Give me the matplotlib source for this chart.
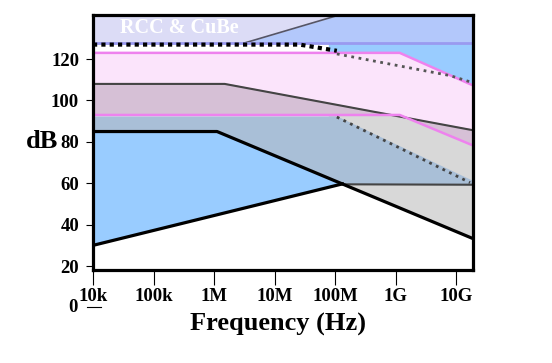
import matplotlib
matplotlib.use('Agg')
import matplotlib.pyplot as plt

plt.rcParams['font.family'] = ['Liberation Serif', 'DejaVu Serif']
plt.rcParams['font.weight'] = 'bold'

# boundaries of the regions, frequency in Hz, level in dB
lower_f = [1e4, 1.32e8]
lower_db = [30, 59.7]
upper_f = [1e4, 1.12e6, 2e10]
upper_db = [85, 85, 33]

blue_f = [1e4, 1.32e8, 1.12e6, 1e4]
blue_db = [30, 59.7, 85, 85]
blue_top_f = [8e7, 2e10, 2e10, 8e7]
blue_top_db = [127.8, 127.8, 100, 100]

grey_f = [1.32e8, 2e10, 2e10, 1.17e9, 8e7]
grey_db = [59.7, 33, 79, 93, 93]

slate_f = [1e4, 1.12e6, 1.32e8, 2e10, 2e10, 1.07e8, 1e4]
slate_db = [85, 85, 59.7, 59.3, 60.5, 92, 92]

pink_f = [1e4, 1.17e9, 2e10, 2e10, 1.17e9, 1e4]
pink_db = [93, 93, 78, 107, 123, 123]

dark_f = [1e4, 1e4, 1.5e6, 2e10, 2e10, 1.17e9]
dark_db = [93, 108, 108, 85.5, 78, 93]

rcc_f = [1e4, 3.2e6, 1.2e8, 1e4]
rcc_db = [127.8, 127.8, 141.4, 141.4]

dots_f = [1e4, 2.6e7, 1.07e8]
dots_db = [127, 127, 124]
dots2_f = [1.07e8, 8e9, 1.7e10]
dots2_db = [122.5, 112, 109]
dots3_f = [1.07e8, 1.7e10]
dots3_db = [92, 60.3]

xticks = [1e4, 1e5, 1e6, 1e7, 1e8, 1e9, 1e10]
xlabels = ['10k', '100k', '1M', '10M', '100M', '1G', '10G']
yticks = [20, 40, 60, 80, 100, 120]

fig = plt.figure(figsize=(5.52, 3.63), dpi=100)
ax = fig.add_axes([0.1685, 0.2562, 0.6885, 0.7025])
ax.set_xscale('log')
ax.set_xlim(1e4, 10 ** 10.28)
ax.set_ylim(18.1, 141.3)

# top band
ax.axhspan(127.8, 145, color='#b3c8fb', zorder=1)
ax.fill(rcc_f, rcc_db, color='#dcdcf6', zorder=2)
ax.plot([3.2e6, 1.2e8], [127.8, 141.4], color='#555566', lw=1.2, zorder=3)
ax.axhline(127.8, color='#9a9af0', lw=2, zorder=3)
ax.text(2.8e4, 135, 'RCC & CuBe', color='white', fontsize=14.5, va='center', zorder=4)

ax.fill(blue_top_f, blue_top_db, color='#99ccff', zorder=1)
ax.fill(blue_f, blue_db, color='#99ccff', zorder=2)
ax.fill(grey_f, grey_db, color='#d8d8d8', zorder=2)
ax.fill(slate_f, slate_db, color='#a9bfd7', zorder=3)
ax.plot([1.32e8, 2e10], [59.5, 59.3], color='#444444', lw=1.5, zorder=4)

ax.fill(pink_f, pink_db, color='#fbe4fb', zorder=5)
ax.fill(dark_f, dark_db, color='#d6c0d6', zorder=6)
ax.plot(dark_f[1:4], dark_db[1:4], color='#444444', lw=1.5, zorder=7)
ax.fill(pink_f, pink_db, facecolor='none', edgecolor='#ee82ee', lw=1.8, zorder=8)

ax.plot(dots_f, dots_db, color='black', lw=3, ls=(0, (1, 1)), zorder=9)
ax.plot(dots2_f, dots2_db, color='#555555', lw=2, ls=':', zorder=9)
ax.plot(dots3_f, dots3_db, color='#444444', lw=2, ls=':', zorder=9)

ax.plot(upper_f, upper_db, color='black', lw=2.3, zorder=10)
ax.plot(lower_f, lower_db, color='black', lw=2.3, zorder=10)

for s in ax.spines.values():
    s.set_linewidth(2.3)
    s.set_zorder(11)

ax.set_xticks(xticks)
ax.set_xticklabels(xlabels)
ax.minorticks_off()
ax.tick_params(axis='x', direction='out', length=11, width=0.8, pad=2, labelsize=13.5)
ax.set_yticks(yticks)
ax.tick_params(axis='y', direction='out', length=5, width=0.8, pad=5, labelsize=13.5)

# the stray zero below the axes
ax.text(-0.04, 0.2, '0', transform=ax.get_yaxis_transform(), ha='right', va='center',
        fontsize=13.5, clip_on=False)
ax.plot([-0.015, 0.02], [0.2, 0.2], transform=ax.get_yaxis_transform(), color='black',
        lw=0.8, clip_on=False)

fig.text(0.076, 0.61, 'dB', fontsize=19, ha='center', va='center')
fig.text(0.504, 0.105, 'Frequency (Hz)', fontsize=19, ha='center', va='center')

fig.savefig('out.png', dpi=100)
